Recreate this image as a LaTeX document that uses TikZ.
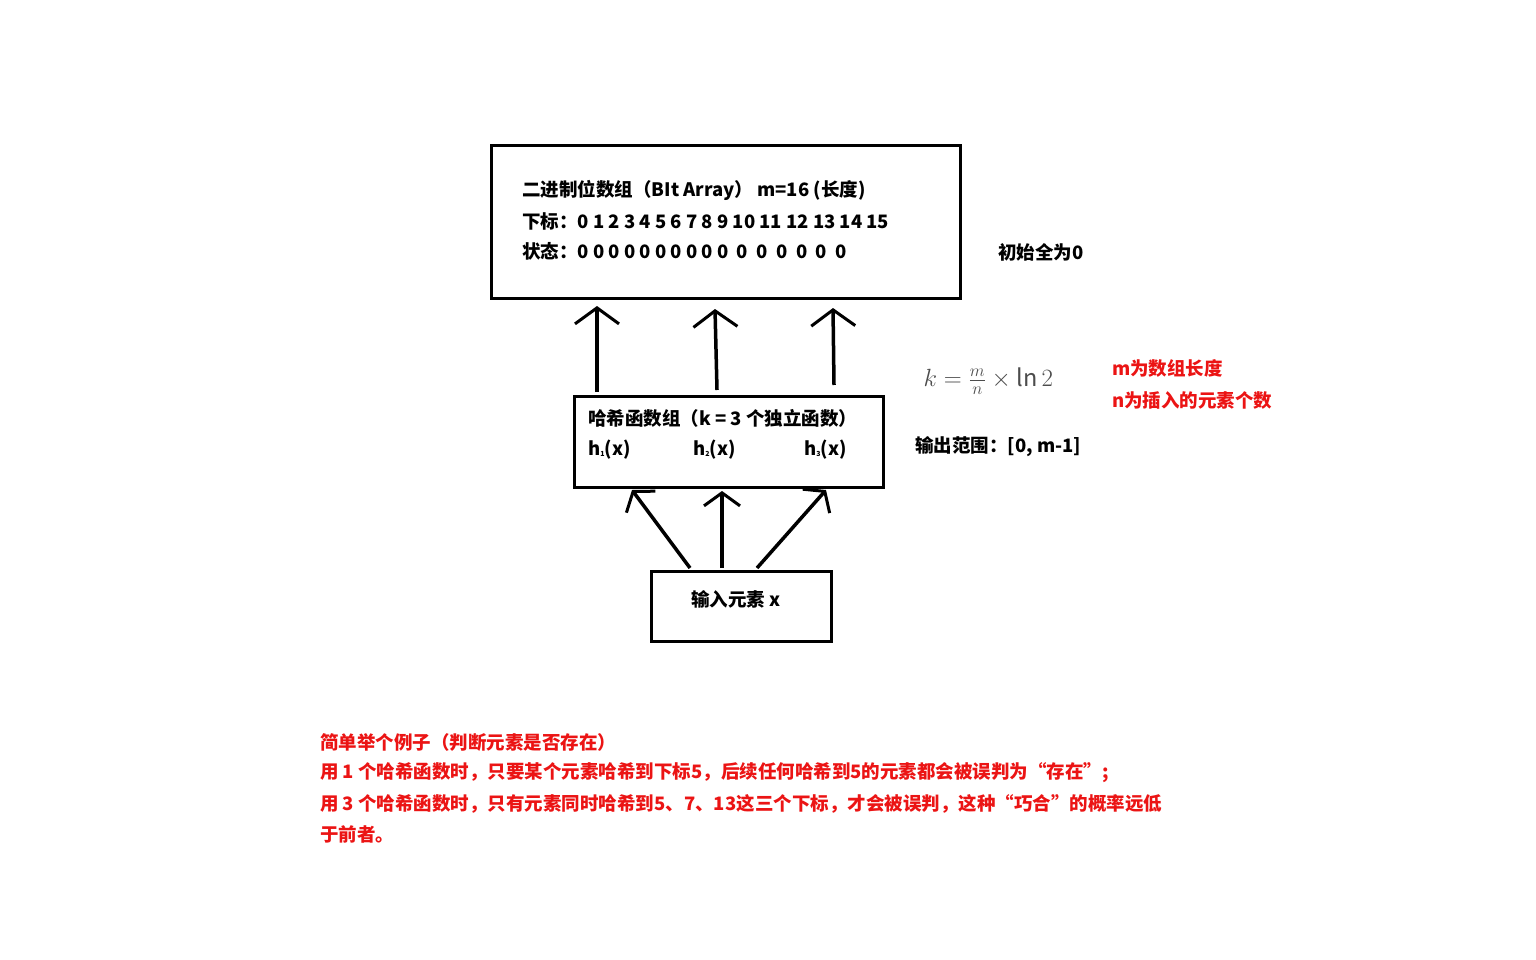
\documentclass[tikz,border=0pt]{standalone}
\usepackage{fontspec}
\setmainfont{Noto Sans CJK SC}
\usetikzlibrary{arrows.meta}
\begin{document}
\begin{tikzpicture}[x=1pt,y=-1pt,
  box/.style={draw,line width=3pt},
  txt/.style={anchor=west,font=\bfseries\fontsize{18.5}{20}\selectfont,inner sep=0pt},
  red/.style={txt,text={rgb,255:red,235;green,20;blue,20}},
  up/.style={line width=3.5pt,-{Straight Barb[length=16pt,width=44pt,line width=3pt]}}]
\useasboundingbox (0,0) rectangle (1536,960);
\draw[box] (491,146) rectangle (960,298);
\node[txt] (t1) at (522,190) {二进制位数组（BIt Array） m=16 (长度)};
\node[txt] (t2) at (522,221) {下标：0 1 2 3 4 5 6 7 8 9 10 11 12 13 14 15};
\node[txt] (t3) at (522,251) {状态：0 0 0 0 0 0 0 0 0 0\ \ 0\ \ 0\ \ 0\ \ 0\ \ 0\ \ 0};
\node[txt] (init) at (998,252) {初始全为0};
\draw[box] (574,396) rectangle (883,487);
\node[txt] (hf) at (588,418) {哈希函数组（k = 3 个独立函数）};
\node[txt] (h1) at (588,450) {h\raisebox{-1pt}{\scriptsize 1}(x)};
\node[txt] (h2) at (693,450) {h\raisebox{-1pt}{\scriptsize 2}(x)};
\node[txt] (h3) at (804,450) {h\raisebox{-1pt}{\scriptsize 3}(x)};
\node[anchor=west,text=black!70,font=\fontsize{23.5}{26}\selectfont] (f) at (920,381) {$k=\frac{m}{n}\times\ln 2$};
\node[red] (r1) at (1112,368) {m为数组长度};
\node[red] (r2) at (1112,400) {n为插入的元素个数};
\node[txt] (out) at (915,447) {输出范围：[0, m-1]};
\draw[box] (651,571) rectangle (831,641);
\node[txt] (in) at (691,599) {输入元素 x};
\coordinate (a1) at (597,392); \coordinate (b1) at (597,306);
\coordinate (a2) at (717,390); \coordinate (b2) at (715,309);
\coordinate (a3) at (834,385); \coordinate (b3) at (833,308);
\draw[up] (a1)--(b1); \draw[up] (a2)--(b2); \draw[up] (a3)--(b3);
\coordinate (c1) at (690,568); \coordinate (d1) at (632,490);
\coordinate (c2) at (722,568); \coordinate (d2) at (722,491);
\coordinate (c3) at (757,568); \coordinate (d3) at (826,490);
\begin{scope}[up/.style={line width=3.5pt,-{Straight Barb[length=13pt,width=36pt,line width=3pt]}}]
\draw[up] (c1)--(d1); \draw[up] (c2)--(d2); \draw[up] (c3)--(d3);
\end{scope}
\node[red] (e1) at (320,742) {简单举个例子（判断元素是否存在）};
\node[red] (e2) at (320,773) {用 1 个哈希函数时，只要某个元素哈希到下标5，后续任何哈希到5的元素都会被误判为“存在”;};
\node[red] (e3) at (320,804) {用 3 个哈希函数时，只有元素同时哈希到5、7、13这三个下标，才会被误判，这种“巧合”的概率远低};
\node[red] (e4) at (320,834) {于前者。};
\end{tikzpicture}
\end{document}
